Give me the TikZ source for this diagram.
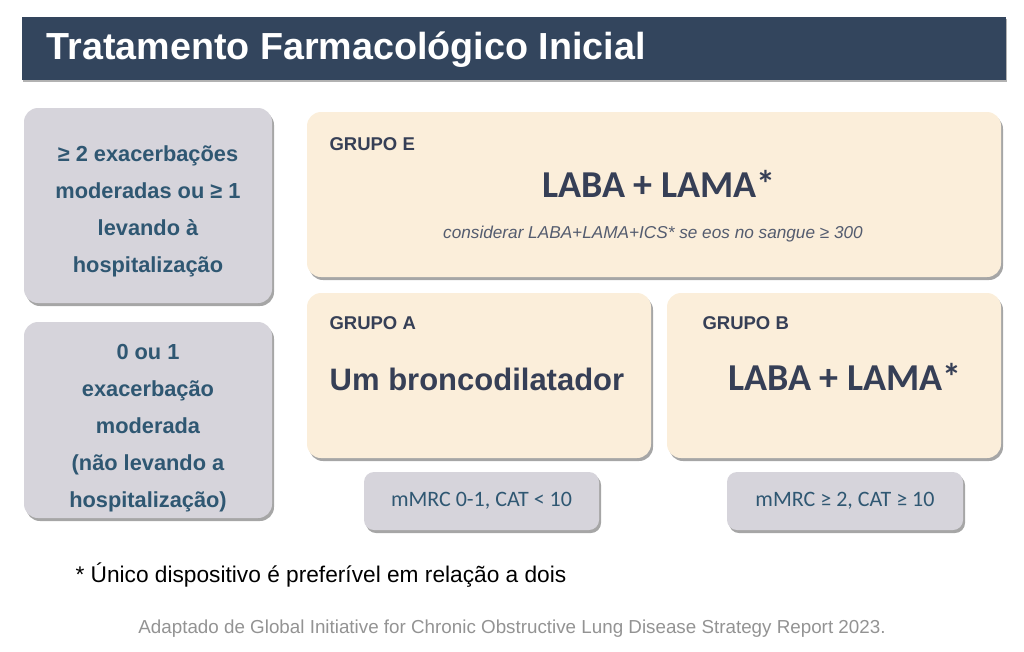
\documentclass[tikz,border=0pt]{standalone}
\usepackage{fontspec}
\setmainfont{Liberation Sans}
\newfontfamily\carlito{Carlito}
\usepackage{tikz}
\usetikzlibrary{shadows}
\definecolor{titlebar}{HTML}{33455D}
\definecolor{boxgray}{HTML}{D6D4DB}
\definecolor{boxcream}{HTML}{FBEEDA}
\definecolor{tealtext}{HTML}{2F5772}
\definecolor{darktext}{HTML}{363F56}

\begin{document}
\begin{tikzpicture}[
    x=1pt, y=-1pt,
    card/.style={rounded corners=14pt, inner sep=0pt,
      drop shadow={shadow xshift=2pt, shadow yshift=-3pt, fill=black, opacity=0.35}},
    grycard/.style={card, fill=boxgray},
    crmcard/.style={card, fill=boxcream},
    crit/.style={font=\fontsize{21.8}{37}\selectfont\bfseries, text=tealtext, align=center},
    grp/.style={font=\fontsize{18.5}{20}\selectfont\bfseries, text=darktext, anchor=west},
    drug/.style={font=\carlito\fontsize{38}{42}\selectfont\bfseries, text=darktext},
    score/.style={font=\carlito\fontsize{22}{24}\selectfont, text=tealtext},
]
\useasboundingbox (0,0) rectangle (1024,651);

% Title bar
\node[fill=titlebar, minimum width=984pt, minimum height=63pt, inner sep=0pt,
  drop shadow={shadow xshift=1pt, shadow yshift=-2pt, fill=black, opacity=0.3}] (bar) at (514,48.5) {};
\node[font=\fontsize{37.7}{40}\selectfont\bfseries, text=white, anchor=west] (title) at (43,50) {Tratamento Farmacológico Inicial};

% Exacerbation rows
\node[grycard, minimum width=248pt, minimum height=195pt] (rowhi) at (148,205.5) {};
\node[crit] (rowhitxt) at (148,211) {≥ 2 exacerbações\\moderadas ou ≥ 1\\levando à\\hospitalização};
\node[grycard, minimum width=248pt, minimum height=196pt] (rowlo) at (148,420) {};
\node[crit] (rowlotxt) at (148,428) {0 ou 1\\exacerbação\\moderada\\(não levando a\\hospitalização)};

% Groups
\node[crmcard, minimum width=694pt, minimum height=165pt] (grpE) at (654,194.5) {};
\node[grp] (grpElbl) at (326,144) {GRUPO E};
\node[drug] (grpEdrug) at (659,184) {LABA + LAMA*};
\node[font=\fontsize{17.2}{20}\selectfont\itshape, text=darktext!85] (grpEnote) at (653,234) {considerar LABA+LAMA+ICS* se eos no sangue ≥ 300};

\node[crmcard, minimum width=344pt, minimum height=165pt] (grpA) at (479,375.5) {};
\node[grp] (grpAlbl) at (326,323) {GRUPO A};
\node[font=\fontsize{31}{34}\selectfont\bfseries, text=darktext] (grpAdrug) at (477,379) {Um broncodilatador};

\node[crmcard, minimum width=334pt, minimum height=165pt] (grpB) at (834,375.5) {};
\node[grp] (grpBlbl) at (699,323) {GRUPO B};
\node[drug] (grpBdrug) at (845,377) {LABA + LAMA*};

% Symptom scores
\node[grycard, rounded corners=10pt, minimum width=235pt, minimum height=58pt] (symA) at (481.5,501) {};
\node[score] (symAtxt) at (symA) {mMRC 0-1, CAT < 10};
\node[grycard, rounded corners=10pt, minimum width=236pt, minimum height=58pt] (symB) at (845,501) {};
\node[score] (symBtxt) at (symB) {mMRC ≥ 2, CAT ≥ 10};

% Notes
\node[font=\fontsize{22.7}{26}\selectfont, anchor=west] (foot) at (72,575) {* Único dispositivo é preferível em relação a dois};
\node[font=\fontsize{18.8}{22}\selectfont, text=gray!85] (src) at (512,629) {Adaptado de Global Initiative for Chronic Obstructive Lung Disease Strategy Report 2023.};

\end{tikzpicture}
\end{document}
